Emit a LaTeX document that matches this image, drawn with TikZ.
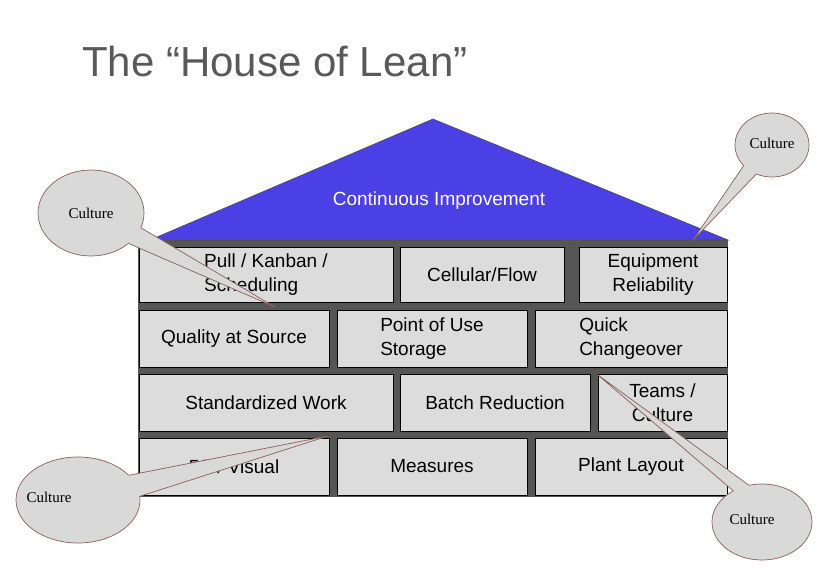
\documentclass[tikz,border=0pt]{standalone}
\usepackage{fontspec}
\setmainfont{Liberation Sans}
\newfontfamily\serifc{Liberation Serif}
\usetikzlibrary{shapes.geometric}
\begin{document}
\begin{tikzpicture}[x=1pt,y=-1pt,
  box/.style={draw=black,line width=0.6pt,fill=boxgray,inner sep=0pt,font=\fontsize{19}{24}\selectfont},
  bubble/.style={ellipse,draw=bubbleline,fill=bubblefill,line width=0.7pt,inner sep=0pt},
  wedge/.style={fill=bubblefill}, wedgeline/.style={draw=bubbleline,line width=0.7pt},
  ctext/.style={font=\serifc\fontsize{15}{18}\selectfont}]
\definecolor{boxgray}{HTML}{DCDCDC}
\definecolor{bubblefill}{HTML}{D9D9D9}
\definecolor{bubbleline}{HTML}{8A5E5E}
\definecolor{roofblue}{HTML}{4A40E6}
\definecolor{wallgray}{HTML}{555555}
\definecolor{titlegray}{HTML}{595959}
\useasboundingbox (0,0) rectangle (824,569);
\node[anchor=base west,text=titlegray,font=\fontsize{42}{48}\selectfont,inner sep=0pt] (title) at (82,77) {The “House of Lean”};
% walls
\fill[wallgray] (138,240) rectangle (728,497);
\draw[fill=roofblue,draw=black!70,line width=0.6pt] (150,240) -- (433,119) -- (728,240) -- cycle;
\node[text=white,font=\fontsize{19}{24}\selectfont] (roof) at (439,201) {Continuous Improvement};
% row 1
\node[box,minimum width=254,minimum height=55,align=left] (pull) at (266,274.5) {Pull / Kanban /\\Scheduling};
\node[box,minimum width=164,minimum height=55] (cell) at (482,274.5) {Cellular/Flow};
\node[box,minimum width=148,minimum height=55,align=center] (equip) at (653,274.5) {Equipment\\Reliability};
% row 2
\node[box,minimum width=190,minimum height=57] (qual) at (234,338.5) {Quality at Source};
\node[box,minimum width=190,minimum height=57,align=left] (pou) at (432,338.5) {Point of Use\\Storage};
\node[box,minimum width=192,minimum height=57,align=left] (quick) at (631,338.5) {Quick\\Changeover};
% row 3
\node[box,minimum width=254,minimum height=57] (std) at (266,402.5) {Standardized Work};
\node[box,minimum width=190,minimum height=57] (batch) at (495,402.5) {Batch Reduction};
\node[box,minimum width=129,minimum height=57,align=center] (teams) at (662.5,402.5) {Teams /\\Culture};
% row 4
\node[box,minimum width=190,minimum height=57] (fives) at (234,466.5) {5S / Visual};
\node[box,minimum width=190,minimum height=57] (meas) at (432,466.5) {Measures};
\node[box,minimum width=192,minimum height=57] (plant) at (631,466.5) {Plant Layout};
% callouts
\coordinate (t1) at (275,307);
\coordinate (t2) at (693,240);
\coordinate (t3) at (328,436);
\coordinate (t4) at (598,375);
\node[bubble,minimum width=106,minimum height=86] (c1) at (91,213) {};
\node[bubble,minimum width=74,minimum height=64] (c2) at (772,145) {};
\node[bubble,minimum width=124,minimum height=86] (c3) at (78,500) {};
\node[bubble,minimum width=100,minimum height=76] (c4) at (762,522) {};
% wedges
\fill[wedge] (91,213) -- (140.8,227.7) -- (t1) -- (128.5,243.4) -- cycle;
\draw[wedgeline] (140.8,227.7) -- (t1) -- (128.5,243.4);
\fill[wedge] (772,145) -- (756.4,174) -- (t2) -- (743.7,165.6) -- cycle;
\draw[wedgeline] (756.4,174) -- (t2) -- (743.7,165.6);
\fill[wedge] (78,500) -- (128.8,475.3) -- (t3) -- (139.8,496.3) -- cycle;
\draw[wedgeline] (128.8,475.3) -- (t3) -- (139.8,496.3);
\fill[wedge] (762,522) -- (733.3,490.9) -- (t4) -- (749,485.3) -- cycle;
\draw[wedgeline] (733.3,490.9) -- (t4) -- (749,485.3);
\node[ctext] (l1) at (91,213) {Culture};
\node[ctext] (l2) at (772,143) {Culture};
\node[ctext] (l3) at (49,497) {Culture};
\node[ctext] (l4) at (752,519) {Culture};
\end{tikzpicture}
\end{document}
